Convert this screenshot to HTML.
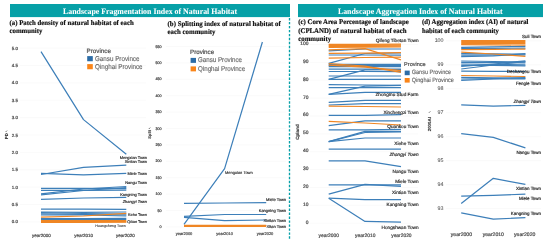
<!DOCTYPE html>
<html><head><meta charset="utf-8"><style>
html,body{margin:0;padding:0;background:#fff;}
body{width:550px;height:244px;overflow:hidden;font-family:"Liberation Sans",sans-serif;}
svg{display:block;text-rendering:geometricPrecision;filter:blur(0.3px);}
</style></head><body>
<svg width="550" height="244" viewBox="0 0 550 244">
<rect width="550" height="244" fill="#fff"/>
<rect x="10" y="4" width="280" height="13.1" fill="#06a0a7"/>
<rect x="298" y="4" width="245" height="13.1" fill="#06a0a7"/>
<text transform="translate(150 13.8) scale(0.96 1)" font-family="Liberation Serif" font-size="8.2" font-weight="bold" fill="#fff" stroke="#fff" stroke-width="0.05" text-anchor="middle">Landscape Fragmentation Index of Natural Habitat</text>
<text transform="translate(420.3 13.8) scale(0.96 1)" font-family="Liberation Serif" font-size="8.2" font-weight="bold" fill="#fff" stroke="#fff" stroke-width="0.05" text-anchor="middle">Landscape Aggregation Index of Natural Habitat</text>
<line x1="289.5" y1="18.0" x2="289.5" y2="239.6" stroke="#06a0a7" stroke-width="1.35" stroke-dasharray="2.4,1.57"/>
<text transform="translate(9.5 25.4) scale(0.96 1)" font-family="Liberation Serif" font-size="7.1" font-weight="bold" fill="#111" stroke="#111" stroke-width="0.18" text-anchor="start">(a) Patch density of natural habitat of each</text>
<text transform="translate(9.5 33.2) scale(0.96 1)" font-family="Liberation Serif" font-size="7.1" font-weight="bold" fill="#111" stroke="#111" stroke-width="0.18" text-anchor="start">community</text>
<text transform="translate(167.6 25.8) scale(0.96 1)" font-family="Liberation Serif" font-size="7.1" font-weight="bold" fill="#111" stroke="#111" stroke-width="0.18" text-anchor="start">(b) Splitting index of natural habitat of</text>
<text transform="translate(167.6 33.6) scale(0.96 1)" font-family="Liberation Serif" font-size="7.1" font-weight="bold" fill="#111" stroke="#111" stroke-width="0.18" text-anchor="start">each community</text>
<text transform="translate(298.2 24.1) scale(0.96 1)" font-family="Liberation Serif" font-size="7.1" font-weight="bold" fill="#111" stroke="#111" stroke-width="0.18" text-anchor="start">(c) Core Area Percentage of landscape</text>
<text transform="translate(298.2 32.5) scale(0.96 1)" font-family="Liberation Serif" font-size="7.1" font-weight="bold" fill="#111" stroke="#111" stroke-width="0.18" text-anchor="start">(CPLAND) of natural habitat of each</text>
<text transform="translate(298.2 40.8) scale(0.96 1)" font-family="Liberation Serif" font-size="7.1" font-weight="bold" fill="#111" stroke="#111" stroke-width="0.18" text-anchor="start">community</text>
<text transform="translate(422 24.1) scale(0.95 1)" font-family="Liberation Serif" font-size="7.1" font-weight="bold" fill="#111" stroke="#111" stroke-width="0.18" text-anchor="start">(d) Aggregation index (AI) of natural</text>
<text transform="translate(422 32.5) scale(0.95 1)" font-family="Liberation Serif" font-size="7.1" font-weight="bold" fill="#111" stroke="#111" stroke-width="0.18" text-anchor="start">habitat of each community</text>
<line x1="20" y1="48.10000000000002" x2="146" y2="48.10000000000002" stroke="#f5f5f5" stroke-width="0.5" />
<text x="17.9" y="48.10000000000002" font-family="Liberation Sans" font-size="4.4" font-weight="normal" fill="#4a4a4a" text-anchor="end" dominant-baseline="central" stroke="#4a4a4a" stroke-width="0.22" >5.0</text>
<line x1="20" y1="65.48000000000002" x2="146" y2="65.48000000000002" stroke="#f5f5f5" stroke-width="0.5" />
<text x="17.9" y="65.48000000000002" font-family="Liberation Sans" font-size="4.4" font-weight="normal" fill="#4a4a4a" text-anchor="end" dominant-baseline="central" stroke="#4a4a4a" stroke-width="0.22" >4.5</text>
<line x1="20" y1="82.86000000000001" x2="146" y2="82.86000000000001" stroke="#f5f5f5" stroke-width="0.5" />
<text x="17.9" y="82.86000000000001" font-family="Liberation Sans" font-size="4.4" font-weight="normal" fill="#4a4a4a" text-anchor="end" dominant-baseline="central" stroke="#4a4a4a" stroke-width="0.22" >4.0</text>
<line x1="20" y1="100.24000000000001" x2="146" y2="100.24000000000001" stroke="#f5f5f5" stroke-width="0.5" />
<text x="17.9" y="100.24000000000001" font-family="Liberation Sans" font-size="4.4" font-weight="normal" fill="#4a4a4a" text-anchor="end" dominant-baseline="central" stroke="#4a4a4a" stroke-width="0.22" >3.5</text>
<line x1="20" y1="117.62" x2="146" y2="117.62" stroke="#f5f5f5" stroke-width="0.5" />
<text x="17.9" y="117.62" font-family="Liberation Sans" font-size="4.4" font-weight="normal" fill="#4a4a4a" text-anchor="end" dominant-baseline="central" stroke="#4a4a4a" stroke-width="0.22" >3.0</text>
<line x1="20" y1="135.0" x2="146" y2="135.0" stroke="#f5f5f5" stroke-width="0.5" />
<text x="17.9" y="135.0" font-family="Liberation Sans" font-size="4.4" font-weight="normal" fill="#4a4a4a" text-anchor="end" dominant-baseline="central" stroke="#4a4a4a" stroke-width="0.22" >2.5</text>
<line x1="20" y1="152.38" x2="146" y2="152.38" stroke="#f5f5f5" stroke-width="0.5" />
<text x="17.9" y="152.38" font-family="Liberation Sans" font-size="4.4" font-weight="normal" fill="#4a4a4a" text-anchor="end" dominant-baseline="central" stroke="#4a4a4a" stroke-width="0.22" >2.0</text>
<line x1="20" y1="169.76" x2="146" y2="169.76" stroke="#f5f5f5" stroke-width="0.5" />
<text x="17.9" y="169.76" font-family="Liberation Sans" font-size="4.4" font-weight="normal" fill="#4a4a4a" text-anchor="end" dominant-baseline="central" stroke="#4a4a4a" stroke-width="0.22" >1.5</text>
<line x1="20" y1="187.14000000000001" x2="146" y2="187.14000000000001" stroke="#f5f5f5" stroke-width="0.5" />
<text x="17.9" y="187.14000000000001" font-family="Liberation Sans" font-size="4.4" font-weight="normal" fill="#4a4a4a" text-anchor="end" dominant-baseline="central" stroke="#4a4a4a" stroke-width="0.22" >1.0</text>
<line x1="20" y1="204.52" x2="146" y2="204.52" stroke="#f5f5f5" stroke-width="0.5" />
<text x="17.9" y="204.52" font-family="Liberation Sans" font-size="4.4" font-weight="normal" fill="#4a4a4a" text-anchor="end" dominant-baseline="central" stroke="#4a4a4a" stroke-width="0.22" >0.5</text>
<line x1="20" y1="221.9" x2="146" y2="221.9" stroke="#f5f5f5" stroke-width="0.5" />
<text x="17.9" y="221.9" font-family="Liberation Sans" font-size="4.4" font-weight="normal" fill="#4a4a4a" text-anchor="end" dominant-baseline="central" stroke="#4a4a4a" stroke-width="0.22" >0.0</text>
<text x="6.3" y="136.2" font-family="Liberation Sans" font-size="4.4" font-weight="bold" fill="#333" text-anchor="middle" dominant-baseline="central"  transform="rotate(-90 6.3 136.2)" stroke="#333" stroke-width="0.1">PD</text>
<line x1="5.6" y1="132.0" x2="7.0" y2="130.6" stroke="#333" stroke-width="0.7" />
<text x="41.4" y="235.3" font-family="Liberation Sans" font-size="4.5" font-weight="normal" fill="#4a4a4a" text-anchor="middle" dominant-baseline="central" stroke="#4a4a4a" stroke-width="0.2" >year2000</text>
<text x="83.6" y="235.3" font-family="Liberation Sans" font-size="4.5" font-weight="normal" fill="#4a4a4a" text-anchor="middle" dominant-baseline="central" stroke="#4a4a4a" stroke-width="0.2" >year2010</text>
<text x="125.5" y="235.3" font-family="Liberation Sans" font-size="4.5" font-weight="normal" fill="#4a4a4a" text-anchor="middle" dominant-baseline="central" stroke="#4a4a4a" stroke-width="0.2" >year2020</text>
<polyline points="41.0,51.6 83.5,119.6 126.3,154.3" fill="none" stroke="#3d7fb9" stroke-width="1.22" stroke-linejoin="round"/>
<polyline points="41.0,174.5 83.5,167.3 126.3,165.2" fill="none" stroke="#3d7fb9" stroke-width="1.22" stroke-linejoin="round"/>
<polyline points="41.0,173.4 83.5,174.9 126.3,173.4" fill="none" stroke="#3d7fb9" stroke-width="1.22" stroke-linejoin="round"/>
<polyline points="41.0,188.4 83.5,188.4 126.3,188.6" fill="none" stroke="#3d7fb9" stroke-width="1.22" stroke-linejoin="round"/>
<polyline points="41.0,190.3 83.5,190.3 126.3,190.2" fill="none" stroke="#3d7fb9" stroke-width="1.22" stroke-linejoin="round"/>
<polyline points="41.0,193.8 83.5,189.0 126.3,186.5" fill="none" stroke="#3d7fb9" stroke-width="1.22" stroke-linejoin="round"/>
<polyline points="41.0,194.9 83.5,190.5 126.3,187.6" fill="none" stroke="#3d7fb9" stroke-width="1.22" stroke-linejoin="round"/>
<polyline points="41.0,199.3 83.5,198.0 126.3,197.4" fill="none" stroke="#3d7fb9" stroke-width="1.22" stroke-linejoin="round"/>
<polyline points="41.0,209.2 83.5,209.2 126.3,209.3" fill="none" stroke="#3d7fb9" stroke-width="1.22" stroke-linejoin="round"/>
<polyline points="41.0,212.0 83.5,212.3 126.3,212.0" fill="none" stroke="#3d7fb9" stroke-width="1.22" stroke-linejoin="round"/>
<polyline points="41.0,212.6 83.5,213.5 126.3,214.0" fill="none" stroke="#3d7fb9" stroke-width="1.22" stroke-linejoin="round"/>
<polyline points="41.0,213.8 83.5,214.5 126.3,215.0" fill="none" stroke="#3d7fb9" stroke-width="1.22" stroke-linejoin="round"/>
<polyline points="41.0,215.0 83.5,215.0 126.3,216.0" fill="none" stroke="#3d7fb9" stroke-width="1.22" stroke-linejoin="round"/>
<polyline points="41.0,218.5 83.5,218.5 126.3,218.3" fill="none" stroke="#3d7fb9" stroke-width="1.22" stroke-linejoin="round"/>
<polyline points="41.0,219.5 83.5,219.5 126.3,219.5" fill="none" stroke="#3d7fb9" stroke-width="1.22" stroke-linejoin="round"/>
<polyline points="41.0,217.2 83.5,216.0 126.3,213.4" fill="none" stroke="#ef8624" stroke-width="1.22" stroke-linejoin="round"/>
<polyline points="41.0,220.6 83.5,220.6 126.3,220.6" fill="none" stroke="#ef8624" stroke-width="1.22" stroke-linejoin="round"/>
<polyline points="41.0,221.6 83.5,221.6 126.3,221.6" fill="none" stroke="#ef8624" stroke-width="1.22" stroke-linejoin="round"/>
<polyline points="41.0,222.4 83.5,222.4 126.3,222.2" fill="none" stroke="#ef8624" stroke-width="1.22" stroke-linejoin="round"/>
<text x="86.6" y="51.3" font-family="Liberation Sans" font-size="6.25" font-weight="normal" fill="#555" text-anchor="start" dominant-baseline="central" stroke="#555" stroke-width="0.22" >Province</text>
<rect x="87.19999999999999" y="56.1" width="5.6" height="5.152" fill="#2c6ca6"/>
<text x="95.0" y="58.9" font-family="Liberation Sans" font-size="6.25" font-weight="normal" fill="#666" text-anchor="start" dominant-baseline="central" stroke="#666" stroke-width="0.12"  transform="translate(95.0 58.9) scale(1 1.12) translate(-95.0 -58.9)">Gansu Province</text>
<rect x="87.19999999999999" y="64.10000000000001" width="5.6" height="5.152" fill="#fa8519"/>
<text x="95.0" y="66.9" font-family="Liberation Sans" font-size="6.25" font-weight="normal" fill="#666" text-anchor="start" dominant-baseline="central" stroke="#666" stroke-width="0.12"  transform="translate(95.0 66.9) scale(1 1.12) translate(-95.0 -66.9)">Qinghai Province</text>
<text x="147" y="157.9" font-family="Liberation Sans" font-size="3.95" font-weight="normal" fill="#2a2a2a" text-anchor="end" dominant-baseline="central" stroke="#2a2a2a" stroke-width="0.16" >Mengxian Town</text>
<text x="147" y="161.4" font-family="Liberation Sans" font-size="3.95" font-weight="normal" fill="#2a2a2a" text-anchor="end" dominant-baseline="central" stroke="#2a2a2a" stroke-width="0.16" >Xintian Town</text>
<text x="147" y="173.6" font-family="Liberation Sans" font-size="3.95" font-weight="normal" fill="#2a2a2a" text-anchor="end" dominant-baseline="central" stroke="#2a2a2a" stroke-width="0.16" >Miele Town</text>
<text x="147" y="182.6" font-family="Liberation Sans" font-size="3.95" font-weight="normal" fill="#2a2a2a" text-anchor="end" dominant-baseline="central" stroke="#2a2a2a" stroke-width="0.16" >Nangu Town</text>
<text x="147" y="194.1" font-family="Liberation Sans" font-size="3.95" font-weight="normal" fill="#2a2a2a" text-anchor="end" dominant-baseline="central" stroke="#2a2a2a" stroke-width="0.16" >Kangning Town</text>
<text x="147" y="201.1" font-family="Liberation Sans" font-size="3.95" font-weight="normal" fill="#2a2a2a" text-anchor="end" dominant-baseline="central" stroke="#2a2a2a" stroke-width="0.16"  font-style="italic">Zhangyi Town</text>
<text x="147" y="215.3" font-family="Liberation Sans" font-size="3.85" font-weight="normal" fill="#2a2a2a" text-anchor="end" dominant-baseline="central" stroke="#2a2a2a" stroke-width="0.14" >Kehe Town</text>
<text x="147" y="221.8" font-family="Liberation Sans" font-size="3.85" font-weight="normal" fill="#2a2a2a" text-anchor="end" dominant-baseline="central" stroke="#2a2a2a" stroke-width="0.14" >Qilian Town</text>
<text x="125.7" y="225.6" font-family="Liberation Sans" font-size="3.7" font-weight="normal" fill="#444" text-anchor="end" dominant-baseline="central" stroke="#444" stroke-width="0.1" >Huangcheng Town</text>
<line x1="166" y1="46.5" x2="286" y2="46.5" stroke="#f5f5f5" stroke-width="0.5" />
<text x="161.6" y="46.5" font-family="Liberation Sans" font-size="3.7" font-weight="normal" fill="#4a4a4a" text-anchor="end" dominant-baseline="central" stroke="#4a4a4a" stroke-width="0.22" >550</text>
<line x1="166" y1="62.900000000000006" x2="286" y2="62.900000000000006" stroke="#f5f5f5" stroke-width="0.5" />
<text x="161.6" y="62.900000000000006" font-family="Liberation Sans" font-size="3.7" font-weight="normal" fill="#4a4a4a" text-anchor="end" dominant-baseline="central" stroke="#4a4a4a" stroke-width="0.22" >500</text>
<line x1="166" y1="79.30000000000001" x2="286" y2="79.30000000000001" stroke="#f5f5f5" stroke-width="0.5" />
<text x="161.6" y="79.30000000000001" font-family="Liberation Sans" font-size="3.7" font-weight="normal" fill="#4a4a4a" text-anchor="end" dominant-baseline="central" stroke="#4a4a4a" stroke-width="0.22" >450</text>
<line x1="166" y1="95.70000000000002" x2="286" y2="95.70000000000002" stroke="#f5f5f5" stroke-width="0.5" />
<text x="161.6" y="95.70000000000002" font-family="Liberation Sans" font-size="3.7" font-weight="normal" fill="#4a4a4a" text-anchor="end" dominant-baseline="central" stroke="#4a4a4a" stroke-width="0.22" >400</text>
<line x1="166" y1="112.10000000000002" x2="286" y2="112.10000000000002" stroke="#f5f5f5" stroke-width="0.5" />
<text x="161.6" y="112.10000000000002" font-family="Liberation Sans" font-size="3.7" font-weight="normal" fill="#4a4a4a" text-anchor="end" dominant-baseline="central" stroke="#4a4a4a" stroke-width="0.22" >350</text>
<line x1="166" y1="128.5" x2="286" y2="128.5" stroke="#f5f5f5" stroke-width="0.5" />
<text x="161.6" y="128.5" font-family="Liberation Sans" font-size="3.7" font-weight="normal" fill="#4a4a4a" text-anchor="end" dominant-baseline="central" stroke="#4a4a4a" stroke-width="0.22" >300</text>
<line x1="166" y1="144.9" x2="286" y2="144.9" stroke="#f5f5f5" stroke-width="0.5" />
<text x="161.6" y="144.9" font-family="Liberation Sans" font-size="3.7" font-weight="normal" fill="#4a4a4a" text-anchor="end" dominant-baseline="central" stroke="#4a4a4a" stroke-width="0.22" >250</text>
<line x1="166" y1="161.3" x2="286" y2="161.3" stroke="#f5f5f5" stroke-width="0.5" />
<text x="161.6" y="161.3" font-family="Liberation Sans" font-size="3.7" font-weight="normal" fill="#4a4a4a" text-anchor="end" dominant-baseline="central" stroke="#4a4a4a" stroke-width="0.22" >200</text>
<line x1="166" y1="177.7" x2="286" y2="177.7" stroke="#f5f5f5" stroke-width="0.5" />
<text x="161.6" y="177.7" font-family="Liberation Sans" font-size="3.7" font-weight="normal" fill="#4a4a4a" text-anchor="end" dominant-baseline="central" stroke="#4a4a4a" stroke-width="0.22" >150</text>
<line x1="166" y1="194.10000000000002" x2="286" y2="194.10000000000002" stroke="#f5f5f5" stroke-width="0.5" />
<text x="161.6" y="194.10000000000002" font-family="Liberation Sans" font-size="3.7" font-weight="normal" fill="#4a4a4a" text-anchor="end" dominant-baseline="central" stroke="#4a4a4a" stroke-width="0.22" >100</text>
<line x1="166" y1="210.5" x2="286" y2="210.5" stroke="#f5f5f5" stroke-width="0.5" />
<text x="161.6" y="210.5" font-family="Liberation Sans" font-size="3.7" font-weight="normal" fill="#4a4a4a" text-anchor="end" dominant-baseline="central" stroke="#4a4a4a" stroke-width="0.22" >50</text>
<line x1="166" y1="226.9" x2="286" y2="226.9" stroke="#f5f5f5" stroke-width="0.5" />
<text x="161.6" y="226.9" font-family="Liberation Sans" font-size="3.7" font-weight="normal" fill="#4a4a4a" text-anchor="end" dominant-baseline="central" stroke="#4a4a4a" stroke-width="0.22" >0</text>
<text x="149.5" y="134.3" font-family="Liberation Sans" font-size="4.0" font-weight="bold" fill="#333" text-anchor="middle" dominant-baseline="central"  transform="rotate(-90 149.5 134.3)" stroke="#333" stroke-width="0.1">Split</text>
<line x1="148.8" y1="129.0" x2="150.2" y2="127.6" stroke="#333" stroke-width="0.7" />
<text x="184" y="233" font-family="Liberation Sans" font-size="4.0" font-weight="normal" fill="#4a4a4a" text-anchor="middle" dominant-baseline="central" stroke="#4a4a4a" stroke-width="0.2" >year2000</text>
<text x="224.6" y="233" font-family="Liberation Sans" font-size="4.0" font-weight="normal" fill="#4a4a4a" text-anchor="middle" dominant-baseline="central" stroke="#4a4a4a" stroke-width="0.2" >year2010</text>
<text x="265" y="233" font-family="Liberation Sans" font-size="4.0" font-weight="normal" fill="#4a4a4a" text-anchor="middle" dominant-baseline="central" stroke="#4a4a4a" stroke-width="0.2" >year2020</text>
<polyline points="184.0,224.3 224.6,168.7 262.4,42.0" fill="none" stroke="#3d7fb9" stroke-width="1.22" stroke-linejoin="round"/>
<polyline points="184.0,203.4 224.6,203.0 266.2,202.7" fill="none" stroke="#3d7fb9" stroke-width="1.22" stroke-linejoin="round"/>
<polyline points="184.0,216.3 224.6,214.5 266.2,214.5" fill="none" stroke="#3d7fb9" stroke-width="1.22" stroke-linejoin="round"/>
<polyline points="184.0,217.4 224.6,220.7 266.2,220.0" fill="none" stroke="#3d7fb9" stroke-width="1.22" stroke-linejoin="round"/>
<polyline points="184.0,225.4 224.6,225.4 266.2,225.4" fill="none" stroke="#ef8624" stroke-width="1.15" stroke-linejoin="round"/>
<polyline points="184.0,226.3 224.6,226.3 266.2,226.3" fill="none" stroke="#ef8624" stroke-width="1.15" stroke-linejoin="round"/>
<text x="190" y="52.5" font-family="Liberation Sans" font-size="6.2" font-weight="normal" fill="#555" text-anchor="start" dominant-baseline="central" stroke="#555" stroke-width="0.22" >Province</text>
<rect x="190.6" y="57.9" width="5.4" height="4.968000000000001" fill="#2c6ca6"/>
<text x="198.0" y="60.6" font-family="Liberation Sans" font-size="6.2" font-weight="normal" fill="#666" text-anchor="start" dominant-baseline="central" stroke="#666" stroke-width="0.12"  transform="translate(198.0 60.6) scale(1 1.12) translate(-198.0 -60.6)">Gansu Province</text>
<rect x="190.6" y="66.39999999999999" width="5.4" height="4.968000000000001" fill="#fa8519"/>
<text x="198.0" y="69.1" font-family="Liberation Sans" font-size="6.2" font-weight="normal" fill="#666" text-anchor="start" dominant-baseline="central" stroke="#666" stroke-width="0.12"  transform="translate(198.0 69.1) scale(1 1.12) translate(-198.0 -69.1)">Qinghai Province</text>
<text x="225" y="172.3" font-family="Liberation Sans" font-size="4.0" font-weight="normal" fill="#2a2a2a" text-anchor="start" dominant-baseline="central" stroke="#2a2a2a" stroke-width="0.12" >Mengxian Town</text>
<text x="286" y="199.2" font-family="Liberation Sans" font-size="4.0" font-weight="normal" fill="#2a2a2a" text-anchor="end" dominant-baseline="central" stroke="#2a2a2a" stroke-width="0.16" >Miele Town</text>
<text x="286" y="210.7" font-family="Liberation Sans" font-size="4.0" font-weight="normal" fill="#2a2a2a" text-anchor="end" dominant-baseline="central" stroke="#2a2a2a" stroke-width="0.16" >Kangning Town</text>
<text x="286" y="220.7" font-family="Liberation Sans" font-size="4.0" font-weight="normal" fill="#2a2a2a" text-anchor="end" dominant-baseline="central" stroke="#2a2a2a" stroke-width="0.16" >Xintian Town</text>
<text x="286" y="226.4" font-family="Liberation Sans" font-size="4.0" font-weight="normal" fill="#2a2a2a" text-anchor="end" dominant-baseline="central" stroke="#2a2a2a" stroke-width="0.16" >Xitan Town</text>
<line x1="310" y1="44.500000000000014" x2="418" y2="44.500000000000014" stroke="#f5f5f5" stroke-width="0.5" />
<text x="308.5" y="44.500000000000014" font-family="Liberation Sans" font-size="4.9" font-weight="normal" fill="#4a4a4a" text-anchor="end" dominant-baseline="central" stroke="#4a4a4a" stroke-width="0.22" >100</text>
<line x1="310" y1="62.37000000000002" x2="418" y2="62.37000000000002" stroke="#f5f5f5" stroke-width="0.5" />
<text x="308.5" y="62.37000000000002" font-family="Liberation Sans" font-size="4.9" font-weight="normal" fill="#4a4a4a" text-anchor="end" dominant-baseline="central" stroke="#4a4a4a" stroke-width="0.22" >90</text>
<line x1="310" y1="80.24000000000002" x2="418" y2="80.24000000000002" stroke="#f5f5f5" stroke-width="0.5" />
<text x="308.5" y="80.24000000000002" font-family="Liberation Sans" font-size="4.9" font-weight="normal" fill="#4a4a4a" text-anchor="end" dominant-baseline="central" stroke="#4a4a4a" stroke-width="0.22" >80</text>
<line x1="310" y1="98.11000000000001" x2="418" y2="98.11000000000001" stroke="#f5f5f5" stroke-width="0.5" />
<text x="308.5" y="98.11000000000001" font-family="Liberation Sans" font-size="4.9" font-weight="normal" fill="#4a4a4a" text-anchor="end" dominant-baseline="central" stroke="#4a4a4a" stroke-width="0.22" >70</text>
<line x1="310" y1="115.98" x2="418" y2="115.98" stroke="#f5f5f5" stroke-width="0.5" />
<text x="308.5" y="115.98" font-family="Liberation Sans" font-size="4.9" font-weight="normal" fill="#4a4a4a" text-anchor="end" dominant-baseline="central" stroke="#4a4a4a" stroke-width="0.22" >60</text>
<line x1="310" y1="133.85000000000002" x2="418" y2="133.85000000000002" stroke="#f5f5f5" stroke-width="0.5" />
<text x="308.5" y="133.85000000000002" font-family="Liberation Sans" font-size="4.9" font-weight="normal" fill="#4a4a4a" text-anchor="end" dominant-baseline="central" stroke="#4a4a4a" stroke-width="0.22" >50</text>
<line x1="310" y1="151.72000000000003" x2="418" y2="151.72000000000003" stroke="#f5f5f5" stroke-width="0.5" />
<text x="308.5" y="151.72000000000003" font-family="Liberation Sans" font-size="4.9" font-weight="normal" fill="#4a4a4a" text-anchor="end" dominant-baseline="central" stroke="#4a4a4a" stroke-width="0.22" >40</text>
<line x1="310" y1="169.59000000000003" x2="418" y2="169.59000000000003" stroke="#f5f5f5" stroke-width="0.5" />
<text x="308.5" y="169.59000000000003" font-family="Liberation Sans" font-size="4.9" font-weight="normal" fill="#4a4a4a" text-anchor="end" dominant-baseline="central" stroke="#4a4a4a" stroke-width="0.22" >30</text>
<line x1="310" y1="187.46000000000004" x2="418" y2="187.46000000000004" stroke="#f5f5f5" stroke-width="0.5" />
<text x="308.5" y="187.46000000000004" font-family="Liberation Sans" font-size="4.9" font-weight="normal" fill="#4a4a4a" text-anchor="end" dominant-baseline="central" stroke="#4a4a4a" stroke-width="0.22" >20</text>
<line x1="310" y1="205.33" x2="418" y2="205.33" stroke="#f5f5f5" stroke-width="0.5" />
<text x="308.5" y="205.33" font-family="Liberation Sans" font-size="4.9" font-weight="normal" fill="#4a4a4a" text-anchor="end" dominant-baseline="central" stroke="#4a4a4a" stroke-width="0.22" >10</text>
<line x1="310" y1="223.20000000000002" x2="418" y2="223.20000000000002" stroke="#f5f5f5" stroke-width="0.5" />
<text x="308.5" y="223.20000000000002" font-family="Liberation Sans" font-size="4.9" font-weight="normal" fill="#4a4a4a" text-anchor="end" dominant-baseline="central" stroke="#4a4a4a" stroke-width="0.22" >0</text>
<text x="297" y="132" font-family="Liberation Sans" font-size="4.6" font-weight="bold" fill="#333" text-anchor="middle" dominant-baseline="central"  transform="rotate(-90 297 132)" stroke="#333" stroke-width="0.1">Cpland</text>
<text x="328.8" y="236.8" font-family="Liberation Sans" font-size="4.9" font-weight="normal" fill="#4a4a4a" text-anchor="middle" dominant-baseline="central" stroke="#4a4a4a" stroke-width="0.2" >year2000</text>
<text x="365.2" y="236.8" font-family="Liberation Sans" font-size="4.9" font-weight="normal" fill="#4a4a4a" text-anchor="middle" dominant-baseline="central" stroke="#4a4a4a" stroke-width="0.2" >year2010</text>
<text x="401.4" y="236.8" font-family="Liberation Sans" font-size="4.9" font-weight="normal" fill="#4a4a4a" text-anchor="middle" dominant-baseline="central" stroke="#4a4a4a" stroke-width="0.2" >year2020</text>
<polyline points="328.7,50.9 365.0,49.0 401.0,49.0" fill="none" stroke="#3d7fb9" stroke-width="1.22" stroke-linejoin="round"/>
<polyline points="328.7,55.0 365.0,55.0 401.0,55.2" fill="none" stroke="#3d7fb9" stroke-width="1.22" stroke-linejoin="round"/>
<polyline points="328.7,63.3 365.0,53.5 401.0,53.0" fill="none" stroke="#3d7fb9" stroke-width="1.22" stroke-linejoin="round"/>
<polyline points="328.7,64.3 365.0,64.3 401.0,64.3" fill="none" stroke="#3d7fb9" stroke-width="1.22" stroke-linejoin="round"/>
<polyline points="328.7,65.5 365.0,65.5 401.0,65.5" fill="none" stroke="#3d7fb9" stroke-width="1.22" stroke-linejoin="round"/>
<polyline points="328.7,66.6 365.0,66.6 401.0,66.6" fill="none" stroke="#3d7fb9" stroke-width="1.22" stroke-linejoin="round"/>
<polyline points="328.7,69.1 365.0,69.1 401.0,69.1" fill="none" stroke="#3d7fb9" stroke-width="1.22" stroke-linejoin="round"/>
<polyline points="328.7,71.5 365.0,71.5 401.0,71.6" fill="none" stroke="#3d7fb9" stroke-width="1.22" stroke-linejoin="round"/>
<polyline points="328.7,76.0 365.0,76.0 401.0,76.0" fill="none" stroke="#3d7fb9" stroke-width="1.22" stroke-linejoin="round"/>
<polyline points="328.7,79.3 365.0,69.8 401.0,69.6" fill="none" stroke="#3d7fb9" stroke-width="1.22" stroke-linejoin="round"/>
<polyline points="328.7,79.3 365.0,79.3 401.0,79.3" fill="none" stroke="#3d7fb9" stroke-width="1.22" stroke-linejoin="round"/>
<polyline points="328.7,84.6 365.0,85.0 401.0,85.4" fill="none" stroke="#3d7fb9" stroke-width="1.22" stroke-linejoin="round"/>
<polyline points="328.7,87.7 365.0,87.7 401.0,87.7" fill="none" stroke="#3d7fb9" stroke-width="1.22" stroke-linejoin="round"/>
<polyline points="328.7,94.4 365.0,86.1 401.0,85.4" fill="none" stroke="#3d7fb9" stroke-width="1.22" stroke-linejoin="round"/>
<polyline points="328.7,94.4 365.0,92.4 401.0,92.4" fill="none" stroke="#3d7fb9" stroke-width="1.22" stroke-linejoin="round"/>
<polyline points="328.7,102.4 365.0,100.4 401.0,100.4" fill="none" stroke="#3d7fb9" stroke-width="1.22" stroke-linejoin="round"/>
<polyline points="328.7,105.0 365.0,103.6 401.0,103.6" fill="none" stroke="#3d7fb9" stroke-width="1.22" stroke-linejoin="round"/>
<polyline points="328.7,115.4 365.0,115.4 401.0,114.7" fill="none" stroke="#3d7fb9" stroke-width="1.22" stroke-linejoin="round"/>
<polyline points="328.7,125.7 365.0,120.8 401.0,120.8" fill="none" stroke="#3d7fb9" stroke-width="1.22" stroke-linejoin="round"/>
<polyline points="328.7,129.9 365.0,129.9 401.0,129.4" fill="none" stroke="#3d7fb9" stroke-width="1.22" stroke-linejoin="round"/>
<polyline points="328.7,141.7 365.0,131.4 401.0,131.4" fill="none" stroke="#3d7fb9" stroke-width="1.22" stroke-linejoin="round"/>
<polyline points="328.7,141.7 365.0,132.5 401.0,132.0" fill="none" stroke="#3d7fb9" stroke-width="1.22" stroke-linejoin="round"/>
<polyline points="328.7,141.7 365.0,138.0 401.0,138.0" fill="none" stroke="#3d7fb9" stroke-width="1.22" stroke-linejoin="round"/>
<polyline points="328.7,149.1 365.0,149.1 401.0,149.1" fill="none" stroke="#3d7fb9" stroke-width="1.22" stroke-linejoin="round"/>
<polyline points="328.7,160.8 365.0,160.8 401.0,166.7" fill="none" stroke="#3d7fb9" stroke-width="1.22" stroke-linejoin="round"/>
<polyline points="328.7,184.9 365.0,184.9 401.0,184.9" fill="none" stroke="#3d7fb9" stroke-width="1.22" stroke-linejoin="round"/>
<polyline points="328.7,194.2 365.0,184.4 401.0,186.4" fill="none" stroke="#3d7fb9" stroke-width="1.22" stroke-linejoin="round"/>
<polyline points="328.7,198.2 365.0,199.6 401.0,199.6" fill="none" stroke="#3d7fb9" stroke-width="1.22" stroke-linejoin="round"/>
<polyline points="328.7,198.2 365.0,221.4 401.0,222.2" fill="none" stroke="#3d7fb9" stroke-width="1.22" stroke-linejoin="round"/>
<polyline points="328.7,44.3 365.0,44.3 401.0,44.1" fill="none" stroke="#ef8624" stroke-width="1.22" stroke-linejoin="round"/>
<polyline points="328.7,45.3 365.0,45.3 401.0,45.1" fill="none" stroke="#ef8624" stroke-width="1.22" stroke-linejoin="round"/>
<polyline points="328.7,46.3 365.0,46.3 401.0,46.1" fill="none" stroke="#ef8624" stroke-width="1.22" stroke-linejoin="round"/>
<polyline points="328.7,47.3 365.0,47.2 401.0,47.0" fill="none" stroke="#ef8624" stroke-width="1.22" stroke-linejoin="round"/>
<polyline points="328.7,49.8 365.0,48.6 401.0,59.8" fill="none" stroke="#ef8624" stroke-width="1.22" stroke-linejoin="round"/>
<polyline points="328.7,53.4 365.0,53.2 401.0,52.7" fill="none" stroke="#ef8624" stroke-width="1.22" stroke-linejoin="round"/>
<polyline points="328.7,58.2 365.0,57.5 401.0,57.2" fill="none" stroke="#ef8624" stroke-width="1.22" stroke-linejoin="round"/>
<polyline points="328.7,63.5 365.0,66.2 401.0,72.3" fill="none" stroke="#ef8624" stroke-width="1.22" stroke-linejoin="round"/>
<polyline points="328.7,65.2 365.0,67.2 401.0,70.6" fill="none" stroke="#ef8624" stroke-width="1.22" stroke-linejoin="round"/>
<polyline points="328.7,106.1 365.0,106.5 401.0,107.0" fill="none" stroke="#ef8624" stroke-width="1.22" stroke-linejoin="round"/>
<polyline points="328.7,121.3 365.0,123.0 401.0,125.0" fill="none" stroke="#ef8624" stroke-width="1.22" stroke-linejoin="round"/>
<text x="404.1" y="65.4" font-family="Liberation Sans" font-size="5.55" font-weight="normal" fill="#555" text-anchor="start" dominant-baseline="central" stroke="#555" stroke-width="0.22" >Province</text>
<rect x="404.70000000000005" y="70.60000000000001" width="5.0" height="4.6000000000000005" fill="#2c6ca6"/>
<text x="411.70000000000005" y="73.10000000000001" font-family="Liberation Sans" font-size="5.55" font-weight="normal" fill="#666" text-anchor="start" dominant-baseline="central" stroke="#666" stroke-width="0.12"  transform="translate(411.70000000000005 73.10000000000001) scale(1 1.12) translate(-411.70000000000005 -73.10000000000001)">Gansu Province</text>
<rect x="404.70000000000005" y="78.0" width="5.0" height="4.6000000000000005" fill="#fa8519"/>
<text x="411.70000000000005" y="80.5" font-family="Liberation Sans" font-size="5.55" font-weight="normal" fill="#666" text-anchor="start" dominant-baseline="central" stroke="#666" stroke-width="0.12"  transform="translate(411.70000000000005 80.5) scale(1 1.12) translate(-411.70000000000005 -80.5)">Qinghai Province</text>
<text x="418.5" y="40.6" font-family="Liberation Sans" font-size="4.7" font-weight="normal" fill="#2a2a2a" text-anchor="end" dominant-baseline="central" stroke="#2a2a2a" stroke-width="0.18" >Qifeng Tibetan Town</text>
<text x="418.5" y="94.9" font-family="Liberation Sans" font-size="4.7" font-weight="normal" fill="#2a2a2a" text-anchor="end" dominant-baseline="central" stroke="#2a2a2a" stroke-width="0.18" >Zhongmu Stud Farm</text>
<text x="418.5" y="112.0" font-family="Liberation Sans" font-size="4.7" font-weight="normal" fill="#2a2a2a" text-anchor="end" dominant-baseline="central" stroke="#2a2a2a" stroke-width="0.18" >Xinchengzi Town</text>
<text x="418.5" y="126.0" font-family="Liberation Sans" font-size="4.7" font-weight="normal" fill="#2a2a2a" text-anchor="end" dominant-baseline="central" stroke="#2a2a2a" stroke-width="0.18" >Quankou Town</text>
<text x="418.5" y="143.2" font-family="Liberation Sans" font-size="4.7" font-weight="normal" fill="#2a2a2a" text-anchor="end" dominant-baseline="central" stroke="#2a2a2a" stroke-width="0.18" >Xiehe Town</text>
<text x="418.5" y="154.2" font-family="Liberation Sans" font-size="4.7" font-weight="normal" fill="#2a2a2a" text-anchor="end" dominant-baseline="central" stroke="#2a2a2a" stroke-width="0.18"  font-style="italic">Zhangyi Town</text>
<text x="418.5" y="171.9" font-family="Liberation Sans" font-size="4.7" font-weight="normal" fill="#2a2a2a" text-anchor="end" dominant-baseline="central" stroke="#2a2a2a" stroke-width="0.18" >Nangu Town</text>
<text x="418.5" y="181.2" font-family="Liberation Sans" font-size="4.7" font-weight="normal" fill="#2a2a2a" text-anchor="end" dominant-baseline="central" stroke="#2a2a2a" stroke-width="0.18" >Miele Town</text>
<text x="418.5" y="192.0" font-family="Liberation Sans" font-size="4.7" font-weight="normal" fill="#2a2a2a" text-anchor="end" dominant-baseline="central" stroke="#2a2a2a" stroke-width="0.18" >Xintian Town</text>
<text x="418.5" y="204.5" font-family="Liberation Sans" font-size="4.7" font-weight="normal" fill="#2a2a2a" text-anchor="end" dominant-baseline="central" stroke="#2a2a2a" stroke-width="0.18" >Kangning Town</text>
<text x="418.5" y="227.6" font-family="Liberation Sans" font-size="4.7" font-weight="normal" fill="#2a2a2a" text-anchor="end" dominant-baseline="central" stroke="#2a2a2a" stroke-width="0.18" >Hongshwan Town</text>
<line x1="446" y1="40.800000000000004" x2="541" y2="40.800000000000004" stroke="#f5f5f5" stroke-width="0.5" />
<text x="443.5" y="40.800000000000004" font-family="Liberation Sans" font-size="5.3" font-weight="normal" fill="#5a5a5a" text-anchor="end" dominant-baseline="central" stroke="#5a5a5a" stroke-width="0.08" >100</text>
<line x1="446" y1="64.77" x2="541" y2="64.77" stroke="#f5f5f5" stroke-width="0.5" />
<text x="443.5" y="64.77" font-family="Liberation Sans" font-size="5.3" font-weight="normal" fill="#5a5a5a" text-anchor="end" dominant-baseline="central" stroke="#5a5a5a" stroke-width="0.08" >99</text>
<line x1="446" y1="88.74" x2="541" y2="88.74" stroke="#f5f5f5" stroke-width="0.5" />
<text x="443.5" y="88.74" font-family="Liberation Sans" font-size="5.3" font-weight="normal" fill="#5a5a5a" text-anchor="end" dominant-baseline="central" stroke="#5a5a5a" stroke-width="0.08" >98</text>
<line x1="446" y1="112.71" x2="541" y2="112.71" stroke="#f5f5f5" stroke-width="0.5" />
<text x="443.5" y="112.71" font-family="Liberation Sans" font-size="5.3" font-weight="normal" fill="#5a5a5a" text-anchor="end" dominant-baseline="central" stroke="#5a5a5a" stroke-width="0.08" >97</text>
<line x1="446" y1="136.67999999999998" x2="541" y2="136.67999999999998" stroke="#f5f5f5" stroke-width="0.5" />
<text x="443.5" y="136.67999999999998" font-family="Liberation Sans" font-size="5.3" font-weight="normal" fill="#5a5a5a" text-anchor="end" dominant-baseline="central" stroke="#5a5a5a" stroke-width="0.08" >96</text>
<line x1="446" y1="160.65" x2="541" y2="160.65" stroke="#f5f5f5" stroke-width="0.5" />
<text x="443.5" y="160.65" font-family="Liberation Sans" font-size="5.3" font-weight="normal" fill="#5a5a5a" text-anchor="end" dominant-baseline="central" stroke="#5a5a5a" stroke-width="0.08" >95</text>
<line x1="446" y1="184.61999999999998" x2="541" y2="184.61999999999998" stroke="#f5f5f5" stroke-width="0.5" />
<text x="443.5" y="184.61999999999998" font-family="Liberation Sans" font-size="5.3" font-weight="normal" fill="#5a5a5a" text-anchor="end" dominant-baseline="central" stroke="#5a5a5a" stroke-width="0.08" >94</text>
<line x1="446" y1="208.59" x2="541" y2="208.59" stroke="#f5f5f5" stroke-width="0.5" />
<text x="443.5" y="208.59" font-family="Liberation Sans" font-size="5.3" font-weight="normal" fill="#5a5a5a" text-anchor="end" dominant-baseline="central" stroke="#5a5a5a" stroke-width="0.08" >93</text>
<text x="429.6" y="124.2" font-family="Liberation Sans" font-size="4.4" font-weight="bold" fill="#333" text-anchor="middle" dominant-baseline="central"  transform="rotate(-90 429.6 124.2)" stroke="#333" stroke-width="0.1">2000AI</text>
<line x1="428.9" y1="112.8" x2="430.3" y2="111.4" stroke="#333" stroke-width="0.7" />
<text x="461.4" y="235.4" font-family="Liberation Sans" font-size="5.1" font-weight="normal" fill="#4a4a4a" text-anchor="middle" dominant-baseline="central" stroke="#4a4a4a" stroke-width="0.2" >year2000</text>
<text x="493.3" y="235.4" font-family="Liberation Sans" font-size="5.1" font-weight="normal" fill="#4a4a4a" text-anchor="middle" dominant-baseline="central" stroke="#4a4a4a" stroke-width="0.2" >year2010</text>
<text x="524.7" y="235.4" font-family="Liberation Sans" font-size="5.1" font-weight="normal" fill="#4a4a4a" text-anchor="middle" dominant-baseline="central" stroke="#4a4a4a" stroke-width="0.2" >year2020</text>
<polyline points="461.2,47.3 493.3,46.8 525.4,46.4" fill="none" stroke="#3d7fb9" stroke-width="1.22" stroke-linejoin="round"/>
<polyline points="461.2,48.4 493.3,48.3 525.4,48.2" fill="none" stroke="#3d7fb9" stroke-width="1.22" stroke-linejoin="round"/>
<polyline points="461.2,53.6 493.3,53.8 525.4,54.2" fill="none" stroke="#3d7fb9" stroke-width="1.22" stroke-linejoin="round"/>
<polyline points="461.2,55.2 493.3,55.2 525.4,55.0" fill="none" stroke="#3d7fb9" stroke-width="1.22" stroke-linejoin="round"/>
<polyline points="461.2,56.7 493.3,56.0 525.4,53.6" fill="none" stroke="#3d7fb9" stroke-width="1.22" stroke-linejoin="round"/>
<polyline points="461.2,61.0 493.3,61.5 525.4,62.0" fill="none" stroke="#3d7fb9" stroke-width="1.22" stroke-linejoin="round"/>
<polyline points="461.2,62.3 493.3,62.5 525.4,62.8" fill="none" stroke="#3d7fb9" stroke-width="1.22" stroke-linejoin="round"/>
<polyline points="461.2,64.0 493.3,64.3 525.4,64.8" fill="none" stroke="#3d7fb9" stroke-width="1.22" stroke-linejoin="round"/>
<polyline points="461.2,65.3 493.3,65.5 525.4,65.8" fill="none" stroke="#3d7fb9" stroke-width="1.22" stroke-linejoin="round"/>
<polyline points="461.2,66.5 493.3,64.0 525.4,60.8" fill="none" stroke="#3d7fb9" stroke-width="1.22" stroke-linejoin="round"/>
<polyline points="461.2,69.0 493.3,65.0 525.4,61.5" fill="none" stroke="#3d7fb9" stroke-width="1.22" stroke-linejoin="round"/>
<polyline points="461.2,71.2 493.3,71.3 525.4,71.5" fill="none" stroke="#3d7fb9" stroke-width="1.22" stroke-linejoin="round"/>
<polyline points="461.2,77.4 493.3,77.8 525.4,78.4" fill="none" stroke="#3d7fb9" stroke-width="1.22" stroke-linejoin="round"/>
<polyline points="461.2,79.0 493.3,78.6 525.4,77.6" fill="none" stroke="#3d7fb9" stroke-width="1.22" stroke-linejoin="round"/>
<polyline points="461.2,80.3 493.3,79.0 525.4,79.0" fill="none" stroke="#3d7fb9" stroke-width="1.22" stroke-linejoin="round"/>
<polyline points="461.2,104.9 493.3,106.1 525.4,105.4" fill="none" stroke="#3d7fb9" stroke-width="1.22" stroke-linejoin="round"/>
<polyline points="461.2,133.7 493.3,137.3 525.4,147.9" fill="none" stroke="#3d7fb9" stroke-width="1.22" stroke-linejoin="round"/>
<polyline points="461.2,203.6 493.3,178.3 525.4,184.4" fill="none" stroke="#3d7fb9" stroke-width="1.22" stroke-linejoin="round"/>
<polyline points="461.2,196.2 493.3,195.3 525.4,194.2" fill="none" stroke="#3d7fb9" stroke-width="1.22" stroke-linejoin="round"/>
<polyline points="461.2,212.9 493.3,219.1 525.4,217.7" fill="none" stroke="#3d7fb9" stroke-width="1.22" stroke-linejoin="round"/>
<polyline points="461.2,40.5 493.3,40.5 525.4,40.5" fill="none" stroke="#ef8624" stroke-width="1.22" stroke-linejoin="round"/>
<polyline points="461.2,41.5 493.3,41.5 525.4,41.5" fill="none" stroke="#ef8624" stroke-width="1.22" stroke-linejoin="round"/>
<polyline points="461.2,42.5 493.3,42.5 525.4,42.5" fill="none" stroke="#ef8624" stroke-width="1.22" stroke-linejoin="round"/>
<polyline points="461.2,43.6 493.3,43.6 525.4,43.6" fill="none" stroke="#ef8624" stroke-width="1.22" stroke-linejoin="round"/>
<polyline points="461.2,44.6 493.3,44.8 525.4,45.2" fill="none" stroke="#ef8624" stroke-width="1.22" stroke-linejoin="round"/>
<polyline points="461.2,49.6 493.3,49.3 525.4,49.2" fill="none" stroke="#ef8624" stroke-width="1.22" stroke-linejoin="round"/>
<polyline points="461.2,52.2 493.3,54.0 525.4,56.4" fill="none" stroke="#ef8624" stroke-width="1.22" stroke-linejoin="round"/>
<polyline points="461.2,75.5 493.3,76.0 525.4,76.5" fill="none" stroke="#ef8624" stroke-width="1.22" stroke-linejoin="round"/>
<text x="541" y="36.6" font-family="Liberation Sans" font-size="4.45" font-weight="normal" fill="#2a2a2a" text-anchor="end" dominant-baseline="central" stroke="#2a2a2a" stroke-width="0.18" >Suli Town</text>
<text x="541" y="71.5" font-family="Liberation Sans" font-size="4.45" font-weight="normal" fill="#2a2a2a" text-anchor="end" dominant-baseline="central" stroke="#2a2a2a" stroke-width="0.18" >Dechangou Town</text>
<text x="541" y="83.3" font-family="Liberation Sans" font-size="4.45" font-weight="normal" fill="#2a2a2a" text-anchor="end" dominant-baseline="central" stroke="#2a2a2a" stroke-width="0.18" >Fengle Town</text>
<text x="541" y="101.8" font-family="Liberation Sans" font-size="4.45" font-weight="normal" fill="#2a2a2a" text-anchor="end" dominant-baseline="central" stroke="#2a2a2a" stroke-width="0.18"  font-style="italic">Zhangyi Town</text>
<text x="541" y="152.3" font-family="Liberation Sans" font-size="4.45" font-weight="normal" fill="#2a2a2a" text-anchor="end" dominant-baseline="central" stroke="#2a2a2a" stroke-width="0.18" >Nangu Town</text>
<text x="541" y="188.6" font-family="Liberation Sans" font-size="4.45" font-weight="normal" fill="#2a2a2a" text-anchor="end" dominant-baseline="central" stroke="#2a2a2a" stroke-width="0.18" >Xintian Town</text>
<text x="541" y="198.6" font-family="Liberation Sans" font-size="4.45" font-weight="normal" fill="#2a2a2a" text-anchor="end" dominant-baseline="central" stroke="#2a2a2a" stroke-width="0.18" >Miele Town</text>
<text x="541" y="213.6" font-family="Liberation Sans" font-size="4.45" font-weight="normal" fill="#2a2a2a" text-anchor="end" dominant-baseline="central" stroke="#2a2a2a" stroke-width="0.18" >Kangning Town</text>
</svg>
</body></html>
